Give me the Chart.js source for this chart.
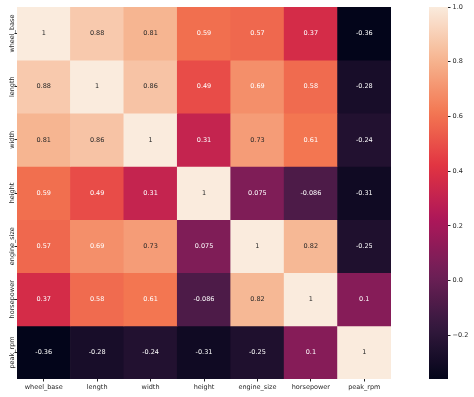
<!DOCTYPE html>
<html>
<head>
<meta charset="utf-8">
<script src="https://cdn.jsdelivr.net/npm/chart.js@4/dist/chart.umd.min.js"></script>
<style>
  html, body { margin: 0; padding: 0; background: #ffffff; }
  #wrap { position: relative; width: 474px; height: 397px; }
  #heat { position: absolute; left: 0; top: 0; }
  #bar { position: absolute; left: 400px; top: 0; }
</style>
</head>
<body>
<div id="wrap">
  <canvas id="heat" width="474" height="397"></canvas>
  <canvas id="bar" width="74" height="397"></canvas>
</div>
<script>
// correlation matrix, one row per variable
const labels = ['wheel_base', 'length', 'width', 'height', 'engine_size', 'horsepower', 'peak_rpm'];
const wheelBase  = [1, 0.88, 0.81, 0.59, 0.57, 0.37, -0.36];
const lengthRow  = [0.88, 1, 0.86, 0.49, 0.69, 0.58, -0.28];
const widthRow   = [0.81, 0.86, 1, 0.31, 0.73, 0.61, -0.24];
const heightRow  = [0.59, 0.49, 0.31, 1, 0.075, -0.086, -0.31];
const engineSize = [0.57, 0.69, 0.73, 0.075, 1, 0.82, -0.25];
const horsepower = [0.37, 0.58, 0.61, -0.086, 0.82, 1, 0.1];
const peakRpm    = [-0.36, -0.28, -0.24, -0.31, -0.25, 0.1, 1];
const rows = [wheelBase, lengthRow, widthRow, heightRow, engineSize, horsepower, peakRpm];

const vmin = -0.36;
const vmax = 1;
const cbarTicks = [-0.2, 0, 0.2, 0.4, 0.6, 0.8, 1.0];

// rough "rocket" colormap
const rocket = [
  [0, [3, 5, 26]],
  [1 / 7, [53, 25, 62]],
  [2 / 7, [112, 31, 87]],
  [3 / 7, [173, 23, 89]],
  [4 / 7, [225, 51, 66]],
  [5 / 7, [243, 118, 81]],
  [6 / 7, [246, 180, 143]],
  [1, [250, 235, 221]]
];

function cmapRgb(t) {
  t = Math.max(0, Math.min(1, t));
  for (let i = 1; i < rocket.length; i++) {
    if (t <= rocket[i][0]) {
      const [t0, c0] = rocket[i - 1];
      const [t1, c1] = rocket[i];
      const f = (t - t0) / (t1 - t0);
      return c0.map((c, k) => Math.round(c + (c1[k] - c) * f));
    }
  }
  return rocket[rocket.length - 1][1];
}
const toCss = c => `rgb(${c[0]},${c[1]},${c[2]})`;
const norm = v => (v - vmin) / (vmax - vmin);

// same rule seaborn uses for annotation colour
function luminance(c) {
  const lin = c.map(x => {
    x /= 255;
    return x <= 0.03928 ? x / 12.92 : Math.pow((x + 0.055) / 1.055, 2.4);
  });
  return 0.2126 * lin[0] + 0.7152 * lin[1] + 0.0722 * lin[2];
}

const font = 'DejaVu Sans';
const textDark = '#262626';

const datasets = rows.map((vals, i) => ({
  label: labels[i],
  data: vals.map(() => [i, i + 1]),
  values: vals,
  backgroundColor: vals.map(v => toCss(cmapRgb(norm(v)))),
  borderWidth: 0,
  grouped: false,
  barPercentage: 1,
  categoryPercentage: 1
}));

// annotations + rotated row labels
const heatText = {
  id: 'heatText',
  afterDatasetsDraw(chart) {
    const ctx = chart.ctx;
    ctx.save();
    ctx.font = `6.5px "${font}"`;
    ctx.textAlign = 'center';
    ctx.textBaseline = 'middle';
    chart.data.datasets.forEach((ds, i) => {
      chart.getDatasetMeta(i).data.forEach((el, j) => {
        const v = ds.values[j];
        const c = cmapRgb(norm(v));
        ctx.fillStyle = luminance(c) > 0.408 ? textDark : '#ffffff';
        ctx.fillText(String(v), el.x, (el.y + el.base) / 2);
      });
    });
    const y = chart.scales.y;
    ctx.fillStyle = textDark;
    ctx.textBaseline = 'alphabetic';
    labels.forEach((lab, i) => {
      ctx.save();
      ctx.translate(13.5, y.getPixelForValue(i + 0.5));
      ctx.rotate(-Math.PI / 2);
      ctx.fillText(lab, 0, 0);
      ctx.restore();
    });
    ctx.restore();
  }
};

new Chart(document.getElementById('heat'), {
  type: 'bar',
  data: { labels: labels, datasets: datasets },
  options: {
    responsive: false,
    devicePixelRatio: 1,
    animation: false,
    layout: { padding: { top: 7, right: 83, left: 0, bottom: 0 } },
    plugins: { legend: { display: false }, tooltip: { enabled: false } },
    scales: {
      x: {
        type: 'category',
        offset: true,
        grid: { display: true, drawOnChartArea: false, offset: false, tickLength: 2.5, color: textDark },
        border: { display: false },
        ticks: { color: textDark, font: { family: font, size: 6.5 }, padding: 2, maxRotation: 0, autoSkip: false },
        afterFit: s => { s.height = 18; }
      },
      y: {
        type: 'linear',
        min: 0,
        max: 7,
        reverse: true,
        afterBuildTicks: s => { s.ticks = labels.map((_, i) => ({ value: i + 0.5 })); },
        grid: { display: true, drawOnChartArea: false, tickLength: 2.5, color: textDark },
        border: { display: false },
        ticks: { display: false },
        afterFit: s => { s.width = 17; }
      }
    }
  },
  plugins: [heatText]
});

// colour bar
function barGradient(context) {
  const chart = context.chart;
  if (!chart.chartArea) return null;
  const y = chart.scales.y;
  const g = chart.ctx.createLinearGradient(0, y.getPixelForValue(vmin), 0, y.getPixelForValue(vmax));
  const n = 40;
  for (let i = 0; i <= n; i++) {
    g.addColorStop(i / n, toCss(cmapRgb(i / n)));
  }
  return g;
}

new Chart(document.getElementById('bar'), {
  type: 'bar',
  data: {
    labels: ['c'],
    datasets: [{
      data: [[vmin, vmax]],
      backgroundColor: barGradient,
      borderWidth: 0,
      barPercentage: 1,
      categoryPercentage: 1
    }]
  },
  options: {
    responsive: false,
    devicePixelRatio: 1,
    animation: false,
    layout: { padding: { top: 7, bottom: 18, left: 29, right: 0 } },
    plugins: { legend: { display: false }, tooltip: { enabled: false } },
    scales: {
      x: { display: false },
      y: {
        type: 'linear',
        position: 'right',
        min: vmin,
        max: vmax,
        afterBuildTicks: s => { s.ticks = cbarTicks.map(v => ({ value: v })); },
        grid: { display: true, drawOnChartArea: false, tickLength: 2.5, color: textDark },
        border: { display: false },
        ticks: {
          color: textDark,
          padding: 2,
          font: { family: font, size: 6.5 },
          callback: v => (v < 0 ? '\u2212' : '') + Math.abs(v).toFixed(1)
        },
        afterFit: s => { s.width = 26; }
      }
    }
  }
});
</script>
</body>
</html>
